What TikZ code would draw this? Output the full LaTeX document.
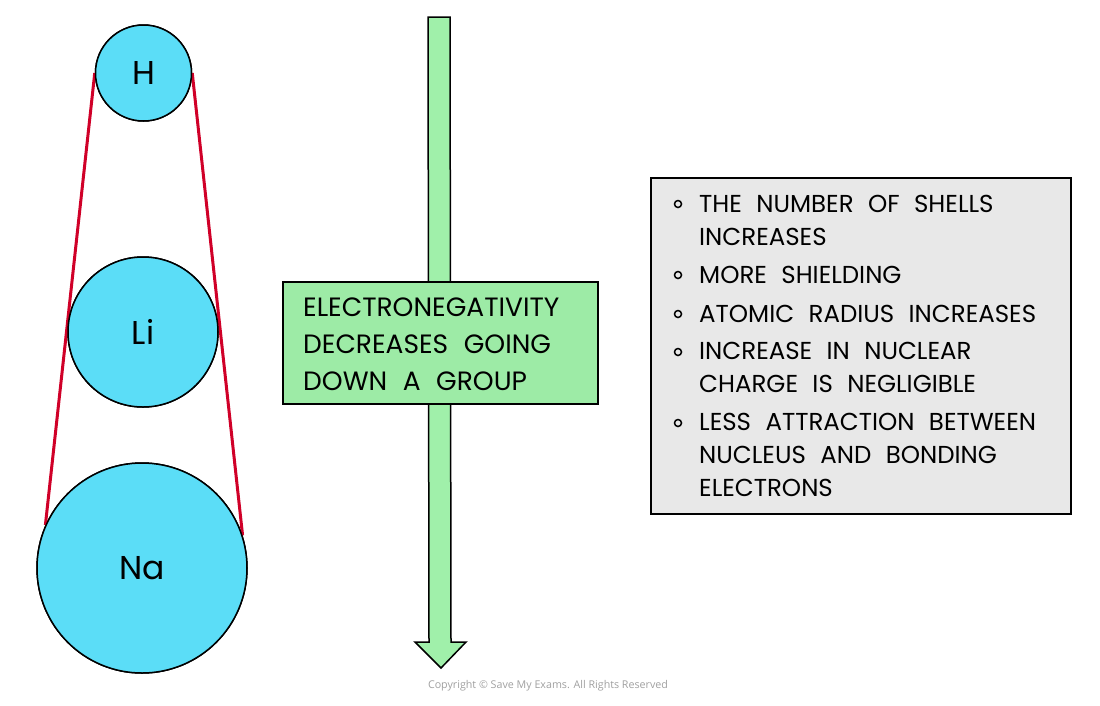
\documentclass[tikz,border=0pt]{standalone}
\usepackage{fontspec}
\newfontfamily\hand[WordSpace={2.2}]{Poppins}
\newfontfamily\copyfont{Open Sans}
\definecolor{atomblue}{RGB}{91,221,247}
\definecolor{arrowgreen}{RGB}{160,240,170}
\definecolor{boxgreen}{RGB}{157,235,166}
\definecolor{boxgrey}{RGB}{232,232,232}
\definecolor{redline}{RGB}{208,0,40}
\definecolor{copygrey}{RGB}{160,160,160}
\begin{document}
\begin{tikzpicture}[x=1pt,y=-1pt,
  atomnode/.style={circle,draw=black,line width=1.5pt,fill=atomblue,inner sep=0pt,font=\hand\fontsize{33}{35}\selectfont},
  tangent/.style={draw=redline,line width=3pt},
  greenbox/.style={rectangle,draw=black,line width=1.5pt,fill=boxgreen,minimum width=315pt,minimum height=122pt,inner sep=0pt},
  greybox/.style={rectangle,draw=black,line width=1.5pt,fill=boxgrey,minimum width=420pt,minimum height=336pt,inner sep=0pt},
  boxtext/.style={anchor=base west,inner sep=0pt,align=left,font=\hand\fontsize{26.5}{37}\selectfont},
  itemtext/.style={anchor=base west,inner sep=0pt,align=left,font=\hand\fontsize{24.5}{33}\selectfont},
  bulletdot/.style={circle,draw=black,line width=1.5pt,inner sep=0pt,minimum size=7pt},
  bigarrow/.style={draw=black,line width=1.5pt,fill=arrowgreen,line join=miter}
]
\useasboundingbox (0,0) rectangle (1100,705);

% atoms
\node[atomnode,minimum size=96pt] (H) at (143.5,73) {};
\node[atomnode,minimum size=150pt] (Li) at (143,332) {};
\node[atomnode,minimum size=210pt] (Na) at (142,568) {};
\draw[tangent] (H.west) -- (Na.156);
\draw[tangent] (H.east) -- (Na.18);
\node[atomnode,minimum size=96pt] at (H) {H};
\node[atomnode,minimum size=150pt] at (Li) {Li};
\node[atomnode,minimum size=210pt] at (Na) {Na};

% arrow
\draw[bigarrow] (428,17) -- (450,17) -- (451,642) -- (466,642) -- (441,668) -- (415,642) -- (429,642) -- cycle;

% green box
\node[greenbox] (gbox) at (440.5,343) {};
\node[boxtext] (gtext) at (303,390) {ELECTRONEGATIVITY\\DECREASES GOING\\DOWN A GROUP};

% grey box
\node[greybox] (rbox) at (861,346) {};
\node[bulletdot] (b1) at (678,204) {};
\node[bulletdot] (b2) at (678,275) {};
\node[bulletdot] (b3) at (678,314) {};
\node[bulletdot] (b4) at (678,352) {};
\node[bulletdot] (b5) at (678,423) {};
\node[itemtext] (t1) at (699,245.5) {THE NUMBER OF SHELLS\\INCREASES};
\node[itemtext] (t2) at (699,283.5) {MORE SHIELDING};
\node[itemtext] (t3) at (699,322.5) {ATOMIC RADIUS INCREASES};
\node[itemtext] (t4) at (699,392.5) {INCREASE IN NUCLEAR\\CHARGE IS NEGLIGIBLE};
\node[itemtext] (t5) at (699,496.5) {LESS ATTRACTION BETWEEN\\NUCLEUS AND BONDING\\ELECTRONS};

% copyright
\node[text=copygrey,font=\copyfont\fontsize{10.7}{12}\selectfont] (copy) at (548,686) {Copyright © Save My Exams. All Rights Reserved};
\end{tikzpicture}
\end{document}
